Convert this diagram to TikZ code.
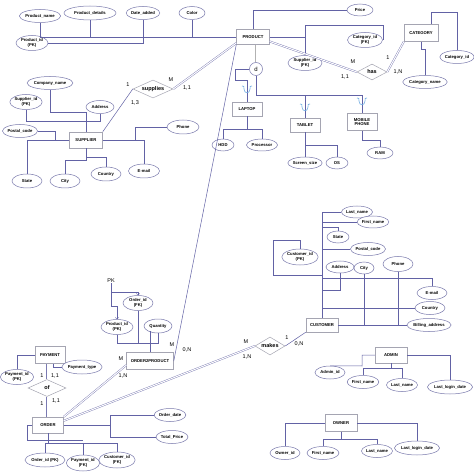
\documentclass[tikz,border=0pt]{standalone}
\usepackage{fontspec}
\setmainfont{Liberation Sans}
\usetikzlibrary{shapes.geometric}
\definecolor{lncol}{RGB}{98,98,165}
\definecolor{elcol}{RGB}{120,120,172}
\definecolor{bxcol}{RGB}{165,165,178}
\definecolor{subcol}{RGB}{110,170,225}
\tikzset{
  ent/.style={rectangle, draw=bxcol, fill=white, minimum width=32pt, minimum height=16pt, inner sep=0pt, align=center, font=\fontsize{4.2}{4.8}\selectfont\bfseries},
  attr/.style={ellipse, draw=elcol, fill=white, minimum width=30pt, minimum height=13pt, inner sep=0pt, align=center, font=\fontsize{4.2}{4.8}\selectfont\bfseries},
  rel/.style={diamond, aspect=2, draw=bxcol, fill=white, minimum width=30pt, minimum height=17pt, inner sep=0pt, font=\fontsize{5.5}{6}\selectfont\bfseries},
  card/.style={inner sep=0pt, font=\fontsize{5.5}{6}\selectfont},
  dbl/.style={draw=lncol!85, double=white, double distance=1pt, line width=0.4pt},
  subset/.style={draw=subcol, line width=0.6pt},
}
\begin{document}
\begin{tikzpicture}[x=1pt, y=-1pt, line width=0.5pt]
  \fill[white] (0,0) rectangle (474,473);
  \useasboundingbox (0,0) rectangle (474,473);

  % Product
  \node[attr, minimum width=33pt] at (40,16) (pname) {Product\_name};
  \node[attr, minimum width=52pt, minimum height=14pt] at (90,13) (pdet) {Product\_details};
  \node[attr] at (143,13) (dadd) {Date\_added};
  \node[attr, minimum width=26pt] at (192,13) (color) {Color};
  \node[attr, minimum width=32pt, minimum height=15pt] at (32,43) (pid) {Product\_id\\(PK)};
  \node[ent, minimum width=33pt, minimum height=15pt] at (253,37) (prod) {PRODUCT};
  \node[attr, minimum width=26pt, minimum height=12pt] at (360,10) (price) {Price};
  \node[attr, minimum width=35pt, minimum height=15pt] at (365,40) (catfk) {Category\_id\\(FK)};
  \node[attr, minimum width=34pt, minimum height=15pt] at (305,63) (supfk) {Supplier\_id\\(FK)};
  \node[rel, minimum height=16pt] at (372,72) (has) {has};
  \node[ent, minimum width=34pt, minimum height=17pt] at (421,33) (cat) {CATEGORY};
  \node[attr, minimum width=32pt] at (457,57) (catid) {Category\_id};
  \node[attr, minimum width=35pt] at (425,82) (catname) {Category\_name};

  % Subclasses
  \node[circle, draw=elcol, fill=white, minimum size=13pt, inner sep=0pt, font=\fontsize{6}{7}\selectfont] at (256,69) (dnode) {d};
  \node[ent, minimum width=30pt, minimum height=14pt] at (247,109) (laptop) {LAPTOP};
  \node[ent, minimum width=30pt, minimum height=14pt] at (305,125) (tablet) {TABLET};
  \node[ent, minimum width=30pt, minimum height=17pt] at (362,122) (mobile) {MOBILE\\PHONE};
  \node[attr, minimum width=22pt, minimum height=12pt] at (223,145) (hdd) {HDD};
  \node[attr, minimum width=31pt, minimum height=12pt] at (262,145) (proc) {Processor};
  \node[attr, minimum width=34pt, minimum height=12pt] at (305,163) (screen) {Screen\_size};
  \node[attr, minimum width=22pt, minimum height=12pt] at (337,163) (os) {OS};
  \node[attr, minimum width=26pt, minimum height=12pt] at (380,153) (ram) {RAM};

  % Supplier
  \node[attr, minimum width=38pt] at (50,83) (cname) {Company\_name};
  \node[attr, minimum height=15pt] at (26,102) (supid) {Supplier\_id\\(PK)};
  \node[attr, minimum width=28pt] at (100,107) (addr) {Address};
  \node[attr, minimum width=33pt] at (20,131) (postal) {Postal\_code};
  \node[ent, minimum width=33pt] at (86,140) (sup) {SUPPLIER};
  \node[attr, minimum height=14pt] at (27,181) (state) {State};
  \node[attr, minimum height=14pt] at (65,181) (city) {City};
  \node[attr, minimum height=14pt] at (106,174) (country) {Country};
  \node[attr, minimum width=31pt, minimum height=14pt] at (144,171) (email) {E-mail};
  \node[attr, minimum width=32pt, minimum height=14pt] at (183,127) (phone) {Phone};
  \node[rel, minimum width=40pt, minimum height=18pt] at (153,89) (supplies) {supplies};

  % Customer
  \node[attr, minimum height=12pt] at (357,212) (lname) {Last\_name};
  \node[attr, minimum height=12pt] at (373,222) (fname) {First\_name};
  \node[attr, minimum width=22pt, minimum height=12pt] at (338,237) (cstate) {State};
  \node[attr] at (368,249) (cpostal) {Postal\_code};
  \node[attr, minimum width=36pt, minimum height=16pt] at (300,257) (custid) {Customer\_id\\(PK)};
  \node[attr, minimum width=28pt, minimum height=12pt] at (340,267) (caddr) {Address};
  \node[attr, minimum width=20pt, minimum height=12pt] at (364,268) (ccity) {City};
  \node[attr, minimum height=15pt] at (398,264) (cphone) {Phone};
  \node[attr] at (432,293) (cemail) {E-mail};
  \node[attr] at (430,308) (ccountry) {Country};
  \node[attr, minimum width=37pt] at (429,325) (cbill) {Billing\_address};
  \node[ent, minimum height=14pt] at (322,325) (cust) {CUSTOMER};
  \node[rel, minimum height=18pt] at (270,346) (makes) {makes};

  % Order2product
  \node[ent, minimum width=47pt, minimum height=17pt] at (150,361) (o2p) {ORDER2PRODUCT};
  \node[attr, minimum width=32pt, minimum height=15pt] at (117,327) (opid) {Product\_id\\(PK)};
  \node[attr, minimum height=15pt] at (138,303) (ooid) {Order\_id\\(FK)};
  \node[attr, minimum width=28pt, minimum height=14pt] at (158,326) (oqty) {Quantity};
  \node[card] at (111,281) (pk) {PK};

  % Payment and order
  \node[ent, minimum height=17pt, minimum width=30pt] at (50,355) (pay) {PAYMENT};
  \node[attr, minimum height=15pt] at (17,377) (payid) {Payment\_id\\(PK)};
  \node[attr, minimum width=36pt, minimum height=14pt] at (82,367) (ptype) {Payment\_type};
  \node[rel, minimum width=38pt, minimum height=17pt] at (47,388) (of) {of};
  \node[ent, minimum width=31pt] at (48,425) (order) {ORDER};
  \node[attr] at (170,415) (odate) {Order\_date};
  \node[attr, minimum width=32pt] at (172,437) (tprice) {Total\_Price};
  \node[attr, minimum width=40pt, minimum height=14pt] at (45,460) (oid) {Order\_id (PK)};
  \node[attr, minimum width=32pt, minimum height=16pt] at (83,463) (payfk) {Payment\_id\\(FK)};
  \node[attr, minimum width=34pt, minimum height=16pt] at (117,460) (cidfk) {Customer\_id\\(FK)};

  % Admin and owner
  \node[ent] at (391,355) (admin) {ADMIN};
  \node[attr] at (330,372.5) (admid) {Admin\_id};
  \node[attr] at (363,382) (afname) {First\_name};
  \node[attr] at (402,385) (alname) {Last\_name};
  \node[attr, minimum width=40pt, minimum height=14pt] at (450,387) (alogin) {Last\_login\_date};
  \node[ent, minimum height=17pt] at (341,423) (owner) {OWNER};
  \node[attr] at (285,453) (oownid) {Owner\_id};
  \node[attr, minimum width=32pt] at (323,453) (ofname) {First\_name};
  \node[attr] at (377,451) (olname) {Last\_name};
  \node[attr, minimum width=40pt, minimum height=14pt] at (417,448) (ologin) {Last\_login\_date};

  % Cardinalities
  \node[card] at (128,85) (c1) {1};
  \node[card] at (135,103) (c2) {1,3};
  \node[card] at (171,80) (c3) {M};
  \node[card] at (187,88) (c4) {1,1};
  \node[card] at (353,62) (c5) {M};
  \node[card] at (345,77) (c6) {1,1};
  \node[card] at (388,58) (c7) {1};
  \node[card] at (398,72) (c8) {1,N};
  \node[card] at (172,345) (c9) {M};
  \node[card] at (187,350) (c10) {0,N};
  \node[card] at (121,359) (c11) {M};
  \node[card] at (123,376) (c12) {1,N};
  \node[card] at (246,342) (c13) {M};
  \node[card] at (247,357) (c14) {1,N};
  \node[card] at (287,338) (c15) {1};
  \node[card] at (299,344) (c16) {0,N};
  \node[card] at (42,376) (c17) {1};
  \node[card] at (55,376) (c18) {1,1};
  \node[card] at (42,404) (c19) {1};
  \node[card] at (56,401) (c20) {1,1};

  \begin{scope}[draw=lncol]
  % Edges
  \draw (pname) |- (prod);
  \draw (pdet) -- (pdet |- prod);
  \draw (dadd) |- (pid);
  \draw (color) -- (color |- prod);
  \draw (prod.north) |- (price);
  \draw (prod.east) -| (305,25) -| (catfk.east);
  \draw (supfk) -- (supfk |- prod);
  \draw[dbl] (prod.-15) -- (has.west);
  \draw[dbl] (has.east) -- (cat.south west);
  \draw ([xshift=10pt]cat.north) -- ++(0,-12) -| (catid.north);
  \draw (cat.south) -- ++(0,8) -| (catname.north);

  \draw[dbl, draw=gray!60] (dnode |- prod.south) -- (dnode);
  \draw (dnode) -| (235,80) -| (laptop.north);
  \draw (dnode) |- (mobile.north |- 0,95) -- (mobile.north);
  \draw (tablet.north) -- (tablet.north |- 0,95);
  \draw (laptop.south) -- ++(0,13) -| (hdd.north);
  \draw (laptop.south) -- ++(0,13) -| (proc.north);
  \draw (tablet.south) -- (screen.north);
  \draw (tablet.south |- 0,145) -| (os.north);
  \draw (mobile.south) -- ++(0,10) -| (ram.north);

  \draw (cname) |- (sup.north |- 0,112) -- (sup.north);
  \draw (addr) |- (sup.north |- 0,121);
  \draw (supid) |- (sup.north |- 0,121);
  \draw (postal) -| (sup.west -| 55,0);
  \draw (sup.west) -| (state.north);
  \draw (sup.south) -- ++(0,12) -| (city.north);
  \draw (sup.south) -- ++(0,9) -| (country.north);
  \draw (sup.east) -| (email.north);
  \draw (phone) -| (sup.east -| 135,0);
  \draw (supplies.west) -- (sup.north east);
  \draw[dbl] (supplies.east) -- (prod.200);
  \draw (prod.south west) -- (o2p.east);

  \draw (cust.north) |- (lname);
  \draw (cust.north |- fname) -- (fname);
  \draw (cust.north |- 0,227) -| (cstate);
  \draw (cust.north |- cpostal) -- (cpostal);
  \draw (custid) |- (273,240) |- (cust.north |- 0,275);
  \draw (caddr) |- (cust.north |- 0,290);
  \draw (cust.north |- 0,278) -| (cemail);
  \draw (ccity) -- (ccity |- cbill);
  \draw (cphone) -- (cphone |- cbill);
  \draw (cust.north |- ccountry) -- (ccountry);
  \draw (cust) -- (cbill);
  \draw (makes.east) -- (cust.south west);
  \draw[dbl] (makes.west) -- (order.15);

  \draw (opid) |- (oqty.south |- 0,343) -- (oqty.south);
  \draw (ooid) |- (o2p.north |- 0,343) -- (o2p.north);
  \draw (o2p.north) -- ++(0,-21);
  \draw[->] (pk.south) |- (ooid.north |- 0,292) -- (ooid.north);
  \draw[->] (pk.south) |- (opid.north |- 0,306) -- (opid.north);
  \draw[dbl] (o2p.190) -- (order.north east);

  \draw (payid) |- (pay.west);
  \draw ([xshift=3pt]pay.south) |- (ptype);
  \draw[dbl] (pay.south -| of.north) -- (of.north);
  \draw[dbl] (of.south) -- (order.north -| of.south);
  \coordinate (obr) at (110,425);
  \draw (order.east) -- (obr);
  \draw (odate) -| (obr);
  \draw (tprice) -| (obr);
  \draw (oid.north) |- (cidfk.north |- 0,443) -- (cidfk.north);
  \draw (order.south) -- (order.south |- 0,443);
  \draw (payfk.north) -- (payfk.north |- 0,443);
  \draw (order.west) -| (27,440) -- (payfk.north |- 0,440);

  \draw (admin.west) -| (362,366) -- (admid.north);
  \draw (admin.south) -- ++(0,5) -| (afname.north);
  \draw (admin.south) -- ++(0,5) -| (alname.north);
  \draw (admin.east) -| (alogin.north);
  \draw (owner.west) -| (oownid.north);
  \draw (owner.south) -- ++(0,7) -| (ofname.north);
  \draw (owner.south) -- ++(0,7) -| (olname.north);
  \draw (owner.east) -| (ologin.north);
  \end{scope}

  % Subset marks
  \foreach \x/\y in {247/90, 305/108, 362/102}
    \draw[subset] (\x-5,\y-4) .. controls (\x-3,\y-5) and (\x-3,\y-3) .. (\x-3,\y-1) .. controls (\x-3,\y+4) and (\x+3,\y+4) .. (\x+3,\y-1) .. controls (\x+3,\y-3) and (\x+3,\y-5) .. (\x+5,\y-4);
\end{tikzpicture}
\end{document}
